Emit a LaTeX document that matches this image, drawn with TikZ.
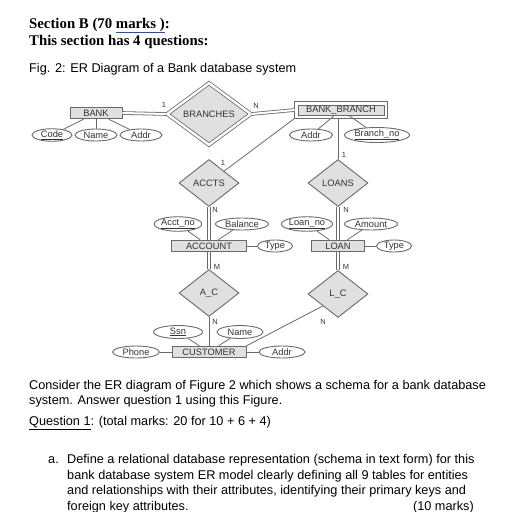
\documentclass[tikz,border=0pt]{standalone}
\usepackage{fontspec}
\setmainfont{Liberation Sans}
\newfontfamily\headfont{Liberation Serif}
\usetikzlibrary{shapes.geometric}
\definecolor{erfill}{HTML}{E0E0E0}
\definecolor{erline}{HTML}{6A6A6A}
\definecolor{linkblue}{HTML}{2F4F8F}
\tikzset{
	erfont/.style={font=\fontsize{9.3}{10}\selectfont, text=black!80},
	entity/.style={erfont, rectangle, draw=erline, line width=0.9pt, fill=erfill, minimum height=11.5, inner sep=0pt},
	relation/.style={erfont, diamond, draw=erline, line width=0.9pt, fill=erfill, inner sep=0pt, minimum width=60, minimum height=47},
	weakrelation/.style={relation, line width=0.8pt, double=white, double distance=2.4pt, minimum width=84, minimum height=62},
	attrib/.style={erfont, ellipse, draw=erline, line width=0.9pt, fill=white, inner sep=0pt, minimum height=12},
	card/.style={font=\fontsize{7.5}{8}\selectfont, text=black!80, inner sep=0pt},
	conn/.style={draw=erline, line width=0.8pt},
	dblconn/.style={draw=erline, line width=0.8pt, double=white, double distance=2pt},
	bodytext/.style={anchor=base west, inner sep=0pt, font=\fontsize{12.7}{15}\selectfont},
}
\begin{document}
\begin{tikzpicture}[x=1pt, y=-1pt]
\useasboundingbox (0,0) rectangle (512,512);
% header
\node[anchor=base west, inner sep=0pt, font=\headfont\bfseries\fontsize{14.8}{17}\selectfont] (title) at (29,28)
	{Section B (70 {\color{linkblue}\underline{\color{black}marks )}}:};
\node[anchor=base west, inner sep=0pt, font=\headfont\bfseries\fontsize{14.8}{17}\selectfont] (subtitle) at (29,45)
	{This section has 4 questions:};
\node[bodytext] (caption) at (29,72) {Fig. 2: ER Diagram of a Bank database system};

% entities
\node[entity, minimum width=52] (BANK) at (96,113) {BANK};
\node[entity, minimum width=86, minimum height=10] (BANKBRANCH) at (341,110) {BANK\_BRANCH};
\draw[erline, line width=0.9pt] (BANKBRANCH.north west) ++(-3,-3) rectangle ([shift={(3,3)}]BANKBRANCH.south east);
\node[entity, minimum width=75] (ACCOUNT) at (209,246) {ACCOUNT};
\node[entity, minimum width=53] (LOAN) at (338,246) {LOAN};
\node[entity, minimum width=74] (CUSTOMER) at (209,352) {CUSTOMER};

% relationships
\node[weakrelation] (BRANCHES) at (209,114) {BRANCHES};
\node[relation] (ACCTS) at (209,183) {ACCTS};
\node[relation] (LOANS) at (338,183) {LOANS};
\node[relation] (AC) at (209,293) {A\_C};
\node[relation] (LC) at (338,294) {L\_C};

% attributes
\node[attrib, minimum width=40] (Code) at (52,135) {\underline{Code}};
\node[attrib, minimum width=42] (BankName) at (96,135) {Name};
\node[attrib, minimum width=42] (BankAddr) at (141,135) {Addr};
\node[attrib, minimum width=43] (BranchAddr) at (311,135) {Addr};
\node[attrib, minimum width=65] (BranchNo) at (377,135) {\underline{Branch\_no}};
\node[attrib, minimum width=47] (AcctNo) at (178,224) {\underline{Acct\_no}};
\node[attrib, minimum width=53] (Balance) at (242,224) {Balance};
\node[attrib, minimum width=35] (AcctType) at (275,246) {Type};
\node[attrib, minimum width=47] (LoanNo) at (307,224) {\underline{Loan\_no}};
\node[attrib, minimum width=53] (Amount) at (371,224) {Amount};
\node[attrib, minimum width=35] (LoanType) at (394,246) {Type};
\node[attrib, minimum width=49, minimum height=13] (Ssn) at (178,332) {\underline{Ssn}};
\node[attrib, minimum width=46, minimum height=13] (CustName) at (240,332) {Name};
\node[attrib, minimum width=47] (Phone) at (136,352) {Phone};
\node[attrib, minimum width=46] (CustAddr) at (282,352) {Addr};

% attribute links
\draw[conn] (BANK) -- (Code);
\draw[conn] (BANK) -- (BankName);
\draw[conn] (BANK) -- (BankAddr);
\draw[conn] (BANKBRANCH) -- (BranchAddr);
\draw[conn] (BANKBRANCH) -- (BranchNo);
\draw[conn] (ACCOUNT) -- (AcctNo);
\draw[conn] (ACCOUNT) -- (Balance);
\draw[conn] (ACCOUNT) -- (AcctType);
\draw[conn] (LOAN) -- (LoanNo);
\draw[conn] (LOAN) -- (Amount);
\draw[conn] (LOAN) -- (LoanType);
\draw[conn] (CUSTOMER) -- (Ssn);
\draw[conn] (CUSTOMER) -- (CustName);
\draw[conn] (CUSTOMER) -- (Phone);
\draw[conn] (CUSTOMER) -- (CustAddr);

% relationship links
\draw[dblconn] (BANK.east) -- (BRANCHES.west);
\draw[dblconn] (BRANCHES.east) -- ([xshift=-3pt]BANKBRANCH.west);
\draw[conn] ([shift={(-3,3)}]BANKBRANCH.south west) -- (ACCTS.north east);
\draw[conn] ([yshift=-3pt]BANKBRANCH.south -| LOANS.north) -- (LOANS.north);
\draw[dblconn] (ACCTS.south) -- (ACCOUNT.north);
\draw[dblconn] (LOANS.south) -- (LOAN.north);
\draw[dblconn] (ACCOUNT.south) -- (AC.north);
\draw[dblconn] (LOAN.south) -- (LC.north);
\draw[conn] (AC.south) -- (CUSTOMER.north);
\draw[conn] (LC.south west) -- (CUSTOMER.north east);

% cardinalities
\node[card] (c1) at (164,105) {1};
\node[card] (c2) at (256,106) {N};
\node[card] (c3) at (223,163) {1};
\node[card] (c4) at (344,155) {1};
\node[card] (c5) at (215,210) {N};
\node[card] (c6) at (346,210) {N};
\node[card] (c7) at (217,267) {M};
\node[card] (c8) at (346,267) {M};
\node[card] (c9) at (215,322) {N};
\node[card] (c10) at (323,322) {N};

% question text
\node[bodytext] (p1) at (29,389) {Consider the ER diagram of Figure 2 which shows a schema for a bank database};
\node[bodytext] (p2) at (29,404) {system. Answer question 1 using this Figure.};
\node[bodytext] (q1) at (29,425) {\underline{Question 1}: (total marks: 20 for 10 + 6 + 4)};
\node[bodytext] (qa) at (48,463) {a.};
\node[bodytext] (a1) at (67,463) {Define a relational database representation (schema in text form) for this};
\node[bodytext] (a2) at (67,479) {bank database system ER model clearly defining all 9 tables for entities};
\node[bodytext] (a3) at (67,494) {and relationships with their attributes, identifying their primary keys and};
\node[bodytext] (a4) at (67,510) {foreign key attributes.};
\node[bodytext, anchor=base east] (marks) at (474,510) {(10 marks)};
\end{tikzpicture}
\end{document}
